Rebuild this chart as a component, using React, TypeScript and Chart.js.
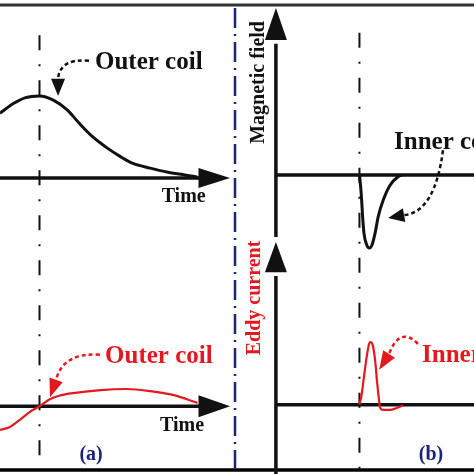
import { useEffect, useRef } from "react";
import { Chart, registerables } from "chart.js";

Chart.register(...registerables);

// (a) outer coil – time in arbitrary units, 0 = the dash-dot marker
const outerFieldT = [-2, -1.3, -0.7, 0, 0.7, 1.4, 2, 2.7, 3.4, 4.1, 4.7, 5.6, 6.5, 7.3, 8];
const outerFieldB = [0.79, 0.91, 0.98, 1, 0.95, 0.83, 0.67, 0.5, 0.37, 0.26, 0.18, 0.12, 0.07, 0.04, 0.01];
const outerEddyT = [-2, -1.5, -1, -0.5, 0, 0.5, 1, 1.6, 3.1, 4.4, 5.6, 6.8, 8];
const outerEddyJ = [-0.7, -0.61, -0.4, -0.17, 0, 0.2, 0.31, 0.38, 0.48, 0.51, 0.45, 0.33, 0.1];

// (b) inner coil
const innerFieldT = [0, 0.06, 0.11, 0.16, 0.23, 0.37, 0.5, 0.62, 0.79, 0.95, 1.21, 1.55, 1.97, 2.15];
const innerFieldB = [0, -0.16, -0.34, -0.57, -0.8, -0.96, -1, -0.97, -0.8, -0.57, -0.34, -0.14, -0.02, 0];
const innerEddyT = [0, 0.11, 0.23, 0.37, 0.5, 0.57, 0.67, 0.79, 0.9, 0.99, 1.04, 1.21, 1.55, 1.89, 2.22];
const innerEddyJ = [0, 0.16, 0.45, 0.77, 0.98, 1, 0.95, 0.72, 0.34, 0.08, -0.04, -0.08, -0.08, -0.05, -0.01];

const RED = "#e3191f";
const NAVY = "#1b2478";
const INK = "#111";
const SERIF = '"Liberation Serif", "Times New Roman", serif';

const pts = (xs: number[], ys: number[]) => xs.map((x, i) => ({ x, y: ys[i] }));

function arrowHead(ctx: CanvasRenderingContext2D, bx: number, by: number, tx: number, ty: number, hw: number) {
  const dx = tx - bx;
  const dy = ty - by;
  const len = Math.hypot(dx, dy) || 1;
  const nx = -dy / len;
  const ny = dx / len;
  ctx.beginPath();
  ctx.moveTo(tx, ty);
  ctx.lineTo(bx + nx * hw, by + ny * hw);
  ctx.lineTo(bx - nx * hw, by - ny * hw);
  ctx.closePath();
  ctx.fill();
}

const diagram = {
  id: "diagram",
  beforeDatasetsDraw(chart: any) {
    const { ctx, chartArea, scales: s } = chart;
    const xa = (v: number) => s.xA.getPixelForValue(v);
    const xb = (v: number) => s.xB.getPixelForValue(v);
    const ya1 = (v: number) => s.yA1.getPixelForValue(v);
    const ya2 = (v: number) => s.yA2.getPixelForValue(v);
    const yb1 = (v: number) => s.yB1.getPixelForValue(v);
    const yb2 = (v: number) => s.yB2.getPixelForValue(v);
    ctx.save();

    // frame lines
    ctx.strokeStyle = "#333";
    ctx.lineWidth = 3;
    ctx.beginPath();
    ctx.moveTo(chartArea.left, chartArea.top + 5);
    ctx.lineTo(chartArea.right, chartArea.top + 5);
    ctx.stroke();
    ctx.strokeStyle = "#000";
    ctx.lineWidth = 3.5;
    ctx.beginPath();
    ctx.moveTo(chartArea.left, chartArea.bottom - 4);
    ctx.lineTo(chartArea.right, chartArea.bottom - 4);
    ctx.stroke();

    // navy separator
    const sepX = xb(-6.2) - 2;
    ctx.strokeStyle = NAVY;
    ctx.lineWidth = 2.5;
    ctx.setLineDash([20, 6, 2, 6]);
    ctx.beginPath();
    ctx.moveTo(sepX, chartArea.top + 8);
    ctx.lineTo(sepX, chartArea.bottom - 5);
    ctx.stroke();

    // dash-dot time markers
    ctx.strokeStyle = INK;
    ctx.lineWidth = 2;
    ctx.setLineDash([15, 14, 2, 14]);
    ctx.beginPath();
    ctx.moveTo(xa(0), ya1(1.74));
    ctx.lineTo(xa(0), ya2(-1.56));
    ctx.moveTo(xb(0), yb1(1.95));
    ctx.lineTo(xb(0), yb2(-1.03));
    ctx.stroke();
    ctx.setLineDash([]);

    // axes
    ctx.strokeStyle = INK;
    ctx.fillStyle = INK;
    ctx.lineWidth = 3.5;
    ctx.beginPath();
    ctx.moveTo(xa(-2), ya1(0));
    ctx.lineTo(xa(8.2), ya1(0));
    ctx.moveTo(xa(-2), ya2(0));
    ctx.lineTo(xa(8.2), ya2(0));
    ctx.moveTo(xb(-4.23), yb1(0));
    ctx.lineTo(xb(5.8), yb1(0));
    ctx.moveTo(xb(-4.23), yb2(0));
    ctx.lineTo(xb(5.8), yb2(0));
    ctx.moveTo(xb(-4.23), yb1(1.8));
    ctx.lineTo(xb(-4.23), yb1(-0.85));
    ctx.moveTo(xb(-4.23), yb2(2.05));
    ctx.lineTo(xb(-4.23), yb2(-1.1));
    ctx.stroke();
    arrowHead(ctx, xa(8.05), ya1(0), xa(9.65), ya1(0), 10);
    arrowHead(ctx, xa(8.05), ya2(0), xa(9.65), ya2(0), 11);
    arrowHead(ctx, xb(-4.23), yb1(1.85), xb(-4.23), yb1(2.29), 11);
    arrowHead(ctx, xb(-4.23), yb2(2.11), xb(-4.23), yb2(2.59), 11);
    ctx.restore();
  },
  afterDatasetsDraw(chart: any) {
    const { ctx, scales: s } = chart;
    const xa = (v: number) => s.xA.getPixelForValue(v);
    const xb = (v: number) => s.xB.getPixelForValue(v);
    const ya1 = (v: number) => s.yA1.getPixelForValue(v);
    const ya2 = (v: number) => s.yA2.getPixelForValue(v);
    const yb1 = (v: number) => s.yB1.getPixelForValue(v);
    const yb2 = (v: number) => s.yB2.getPixelForValue(v);
    ctx.save();

    const pointer = (
      color: string,
      p0: [number, number],
      c: [number, number],
      p1: [number, number],
      tip: [number, number]
    ) => {
      ctx.strokeStyle = color;
      ctx.fillStyle = color;
      ctx.lineWidth = 2.5;
      ctx.setLineDash([4, 3]);
      ctx.beginPath();
      ctx.moveTo(p0[0], p0[1]);
      ctx.quadraticCurveTo(c[0], c[1], p1[0], p1[1]);
      ctx.stroke();
      ctx.setLineDash([]);
      arrowHead(ctx, p1[0], p1[1], tip[0], tip[1], 7);
    };
    pointer(INK, [xa(2.51), ya1(1.43)], [xa(1.04), ya1(1.46)], [xa(0.94), ya1(1.21)], [xa(0.94), ya1(1.0)]);
    pointer(RED, [xa(3.06), ya2(1.52)], [xa(1.19), ya2(1.6)], [xa(0.84), ya2(0.78)], [xa(0.53), ya2(0.27)]);
    pointer(INK, [xb(4.23), yb1(0.34)], [xb(3.82), yb1(-0.51)], [xb(2.26), yb1(-0.55)], [xb(1.45), yb1(-0.59)]);
    pointer(RED, [xb(2.96), yb2(0.97)], [xb(2.05), yb2(1.26)], [xb(1.5), yb2(0.81)], [xb(1.0), yb2(0.56)]);

    const label = (text: string, x: number, y: number, size: number, color: string, align: CanvasTextAlign, rot = 0) => {
      ctx.save();
      ctx.font = `bold ${size}px ${SERIF}`;
      ctx.fillStyle = color;
      ctx.textAlign = align;
      ctx.textBaseline = "middle";
      ctx.translate(x, y);
      if (rot) ctx.rotate(rot);
      ctx.fillText(text, 0, 0);
      ctx.restore();
    };
    label("Outer coil", xa(2.81), ya1(1.41), 25, INK, "left");
    label("Time", xa(7.3), ya1(-0.23), 20, INK, "center");
    label("Outer coil", xa(3.32), ya2(1.46), 25, RED, "left");
    label("Time", xa(7.22), ya2(-0.58), 20, INK, "center");
    label("(a)", xa(2.61), ya2(-1.44), 20, NAVY, "center");
    label("Magnetic field", xb(-5.11), yb1(1.27), 20, INK, "center", -Math.PI / 2);
    label("Inner coil", xb(1.75), yb1(0.44), 25, INK, "left");
    label("Eddy current", xb(-5.28), yb2(1.7), 20, RED, "center", -Math.PI / 2);
    label("Inner coil", xb(3.17), yb2(0.79), 25, RED, "left");
    label("(b)", xb(3.62), yb2(-0.79), 20, NAVY, "center");
    ctx.restore();
  },
};

export default function App() {
  const canvasRef = useRef<HTMLCanvasElement>(null);

  useEffect(() => {
    document.body.style.margin = "0";
    const ctx = canvasRef.current?.getContext("2d");
    if (!ctx) return;

    const line = (data: any, color: string, width: number, xAxisID: string, yAxisID: string) => ({
      data,
      borderColor: color,
      borderWidth: width,
      pointRadius: 0,
      cubicInterpolationMode: "monotone" as const,
      fill: false,
      clip: false as const,
      xAxisID,
      yAxisID,
    });
    const hidden = { type: "linear" as const, display: false, bounds: "data" as const };

    const chart = new Chart(ctx, {
      type: "line",
      data: {
        datasets: [
          line(pts(outerFieldT, outerFieldB), INK, 3, "xA", "yA1"),
          line(pts(outerEddyT, outerEddyJ), RED, 2.2, "xA", "yA2"),
          line(pts(innerFieldT, innerFieldB), INK, 3, "xB", "yB1"),
          line(pts(innerEddyT, innerEddyJ), RED, 2.2, "xB", "yB2"),
        ],
      },
      options: {
        responsive: true,
        maintainAspectRatio: false,
        animation: false,
        events: [],
        layout: { padding: 0 },
        plugins: { legend: { display: false }, tooltip: { enabled: false } },
        scales: {
          xA: { ...hidden, position: "bottom", stack: "cols", weight: 1, min: -2, max: 10 },
          xB: { ...hidden, position: "bottom", stack: "cols", weight: 2, min: -6.2, max: 5.8 },
          yA1: { ...hidden, position: "left", stack: "a", weight: 2, min: -0.72, max: 2.17 },
          yA2: { ...hidden, position: "left", stack: "a", weight: 1, min: -2, max: 5 },
          yB1: { ...hidden, position: "left", stack: "b", weight: 2, min: -0.85, max: 2.4 },
          yB2: { ...hidden, position: "left", stack: "b", weight: 1, min: -1.1, max: 2.67 },
        },
      },
      plugins: [diagram],
    });

    return () => chart.destroy();
  }, []);

  return (
    <div style={{ position: "relative", width: 474, height: 474, background: "#fff" }}>
      <canvas ref={canvasRef} />
    </div>
  );
}
